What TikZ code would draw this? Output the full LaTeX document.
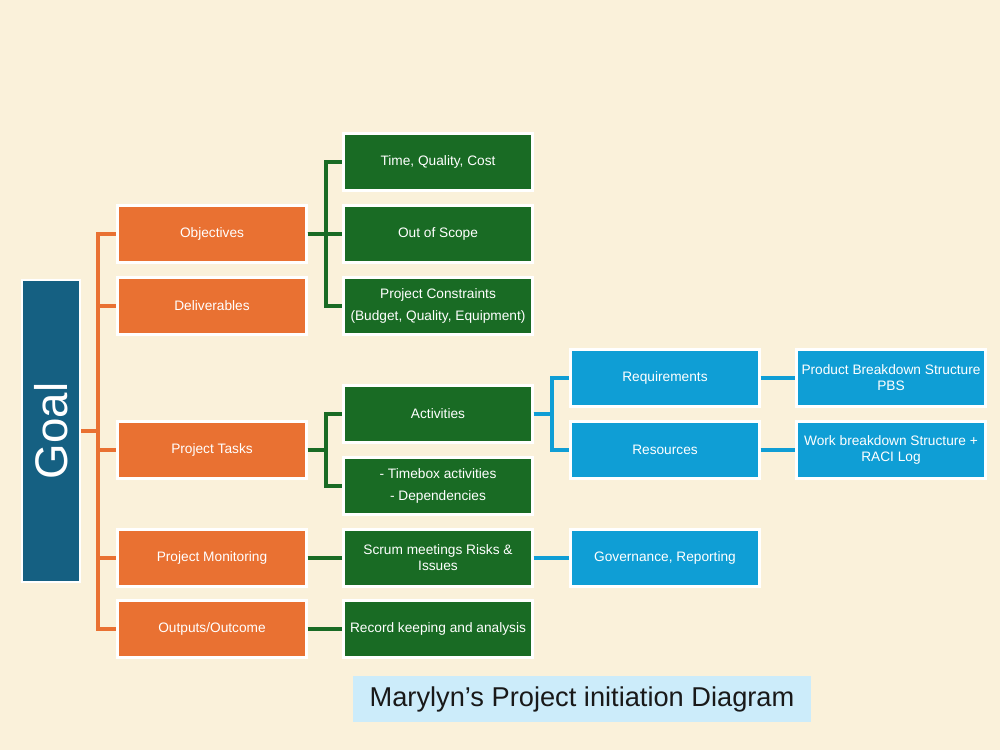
\documentclass[tikz,border=0pt]{standalone}
\usepackage{fontspec}
\setmainfont{Liberation Sans}
\usepackage{graphicx}
\usetikzlibrary{positioning,calc}
\definecolor{bgcream}{RGB}{250,241,218}
\definecolor{goalblue}{RGB}{21,96,130}
\definecolor{phaseorange}{RGB}{233,113,50}
\definecolor{taskgreen}{RGB}{25,107,36}
\definecolor{detailblue}{RGB}{15,158,213}
\definecolor{titlebg}{RGB}{204,236,250}

\begin{document}
\begin{tikzpicture}[
  x=0.02cm, y=-0.02cm,
  every node/.style={font=\fontsize{7.8}{9}\selectfont, text=white},
  box/.style={rectangle, minimum width=3.78cm, minimum height=1.14cm,
    align=center, draw=white, line width=1.2pt, inner sep=1pt},
  phasebox/.style={box, fill=phaseorange},
  taskbox/.style={box, fill=taskgreen},
  detailbox/.style={box, fill=detailblue},
  oline/.style={draw=phaseorange, line width=2pt},
  gline/.style={draw=taskgreen, line width=2pt},
  bline/.style={draw=detailblue, line width=2pt}
]
  \fill[bgcream] (0,0) rectangle (1000,750);

  \node[rectangle, fill=goalblue, draw=white, line width=1.2pt,
    minimum width=1.16cm, minimum height=6.04cm,
    font=\fontsize{26}{30}\selectfont] (goal) at (51,431) {\rotatebox{90}{Goal}};

  \node[phasebox] (obj) at (212,234) {Objectives};
  \node[phasebox] (del) at (212,306) {Deliverables};
  \node[phasebox] (tasks) at (212,450) {Project Tasks};
  \node[phasebox] (mon) at (212,558) {Project Monitoring};
  \node[phasebox] (outc) at (212,629) {Outputs/Outcome};

  \node[taskbox] (tqc) at (438,162) {Time, Quality, Cost};
  \node[taskbox] (scope) at (438,234) {Out of Scope};
  \node[taskbox] (cons) at (438,306) {Project Constraints\\[3.5pt](Budget, Quality, Equipment)};
  \node[taskbox] (act) at (438,414) {Activities};
  \node[taskbox] (timebox) at (438,486) {- Timebox activities\\[3.5pt]- Dependencies};
  \node[taskbox] (scrum) at (438,558) {Scrum meetings Risks \&\\Issues};
  \node[taskbox] (rec) at (438,629) {Record keeping and analysis};

  \node[detailbox] (req) at (665,378) {Requirements};
  \node[detailbox] (res) at (665,450) {Resources};
  \node[detailbox] (gov) at (665,558) {Governance, Reporting};
  \node[detailbox] (pbs) at (891,378) {Product Breakdown Structure\\PBS};
  \node[detailbox] (wbs) at (891,450) {Work breakdown Structure +\\RACI Log};

  \node[rectangle, fill=titlebg, text=black!90, minimum width=9.18cm,
    minimum height=0.92cm, font=\fontsize{15.5}{18}\selectfont] (title)
    at (582,699) {Marylyn’s Project initiation Diagram};

  % branch points
  \coordinate (obus) at (98,431);
  \coordinate (gbusobj) at (326,234);
  \coordinate (gbustask) at (326,450);
  \coordinate (bbus) at (552,414);

  \foreach \n in {obj, del, tasks, mon, outc} {
    \draw[oline] (goal.east) -- (obus) |- (\n.west);
  }
  \foreach \n in {tqc, scope, cons} {
    \draw[gline] (obj.east) -- (gbusobj) |- (\n.west);
  }
  \foreach \n in {act, timebox} {
    \draw[gline] (tasks.east) -- (gbustask) |- (\n.west);
  }
  \foreach \f/\t in {mon/scrum, outc/rec} {
    \draw[gline] (\f) -- (\t);
  }
  \foreach \n in {req, res} {
    \draw[bline] (act.east) -- (bbus) |- (\n.west);
  }
  \foreach \f/\t in {req/pbs, res/wbs, scrum/gov} {
    \draw[bline] (\f) -- (\t);
  }
\end{tikzpicture}
\end{document}
